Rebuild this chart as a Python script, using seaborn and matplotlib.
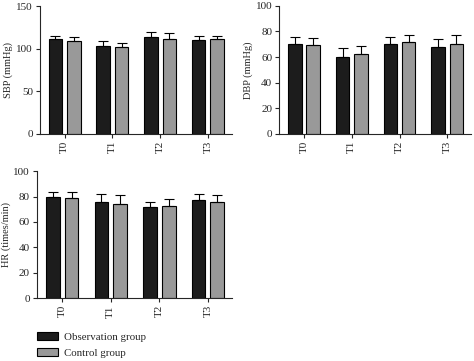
import matplotlib
matplotlib.use("Agg")
import matplotlib.pyplot as plt
import seaborn as sns
import pandas as pd
import numpy as np
from matplotlib.patches import Patch

# time points and groups
times = ["T0", "T1", "T2", "T3"]
groups = ["Observation group", "Control group"]

# means
sbp_obs = [111, 103, 113.5, 110.5]
sbp_ctrl = [109.5, 101.5, 111.5, 111]
dbp_obs = [70.4, 59.8, 70.1, 68]
dbp_ctrl = [69.6, 62.1, 71.5, 70.4]
hr_obs = [79.6, 75.8, 72, 77.6]
hr_ctrl = [78.5, 74.4, 72.8, 76]

# upper error (SD)
sbp_obs_sd = [4.5, 5.5, 6, 4.5]
sbp_ctrl_sd = [4, 5.5, 7, 3.5]
dbp_obs_sd = [5.5, 7.2, 5.8, 6.3]
dbp_ctrl_sd = [5.4, 6.5, 5.9, 6.6]
hr_obs_sd = [4.3, 6.2, 4, 4.4]
hr_ctrl_sd = [5.2, 7.1, 5.1, 5.3]

colors = ["#1c1c1c", "#999999"]

sns.set_style("ticks")
plt.rcParams["font.family"] = ["Liberation Serif", "DejaVu Serif"]

fig = plt.figure(figsize=(4.74, 3.61), dpi=100)
ax1 = fig.add_axes([0.084, 0.629, 0.405, 0.354])
ax2 = fig.add_axes([0.589, 0.629, 0.405, 0.355])
ax3 = fig.add_axes([0.078, 0.174, 0.412, 0.352])


def panel(ax, obs, ctrl, obs_sd, ctrl_sd, ylabel, ylim, yticks):
    df = pd.DataFrame({
        "time": times * 2,
        "group": [groups[0]] * 4 + [groups[1]] * 4,
        "value": obs + ctrl,
    })
    sns.barplot(data=df, x="time", y="value", hue="group", order=times,
                hue_order=groups, palette=colors, errorbar=None,
                width=0.77, gap=0.27, edgecolor="black", linewidth=0.8,
                saturation=1, legend=False, ax=ax)
    # upward-only error bars
    for cont, m, sd in zip(ax.containers, [obs, ctrl], [obs_sd, ctrl_sd]):
        xs = [b.get_x() + b.get_width() / 2 for b in cont]
        ax.errorbar(xs, m, yerr=[np.zeros(len(sd)), sd], fmt="none",
                    ecolor="black", elinewidth=0.8, capsize=3.5, capthick=0.8)
    ax.set_xlim(-0.52, 3.5)
    ax.set_ylim(*ylim)
    ax.set_yticks(yticks)
    ax.set_xlabel("")
    ax.set_ylabel(ylabel, fontsize=7.5, labelpad=2)
    ax.tick_params(axis="x", rotation=90, labelsize=8, length=3, width=0.8, pad=2)
    ax.tick_params(axis="y", labelsize=8, length=3, width=0.8, pad=2)
    for s in ["left", "bottom"]:
        ax.spines[s].set_linewidth(0.8)
    sns.despine(ax=ax)


panel(ax1, sbp_obs, sbp_ctrl, sbp_obs_sd, sbp_ctrl_sd, "SBP (mmHg)", (0, 150), [0, 50, 100, 150])
panel(ax2, dbp_obs, dbp_ctrl, dbp_obs_sd, dbp_ctrl_sd, "DBP (mmHg)", (0, 100), [0, 20, 40, 60, 80, 100])
panel(ax3, hr_obs, hr_ctrl, hr_obs_sd, hr_ctrl_sd, "HR (times/min)", (0, 100), [0, 20, 40, 60, 80, 100])

handles = [Patch(facecolor=c, edgecolor="black", linewidth=0.8) for c in colors]
fig.legend(handles, groups, loc="lower left", bbox_to_anchor=(0.062, -0.012),
           frameon=False, fontsize=7.8, handlelength=1.9, handleheight=0.75,
           handletextpad=0.55, labelspacing=0.55, borderpad=0.2)

fig.savefig("out.png", dpi=100)
